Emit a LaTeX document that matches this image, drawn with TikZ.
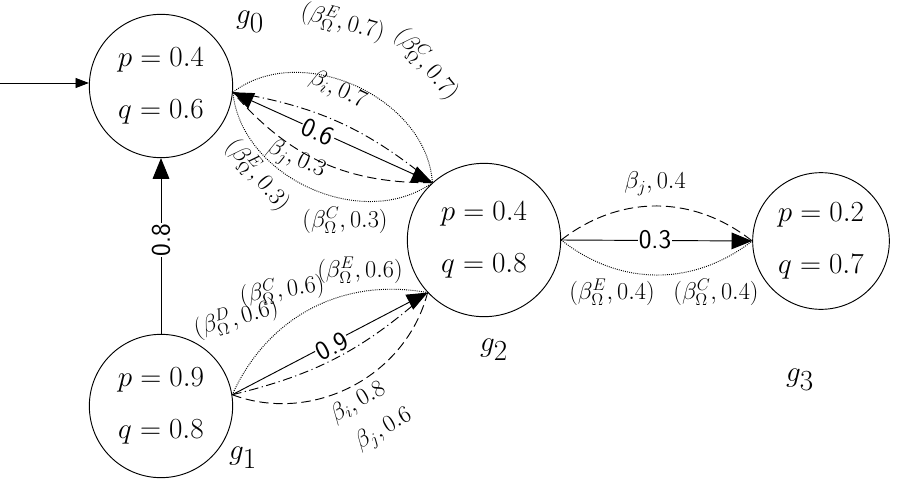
\documentclass[tikz,border=0pt]{standalone}
\usetikzlibrary{arrows.meta,calc}
\begin{document}
\begin{tikzpicture}[x=0.03cm,y=-0.03cm,
  st/.style={circle,draw,line width=0.8pt,align=center,font=\fontsize{34}{44}\selectfont,inner sep=0pt},
  lbl/.style={font=\fontsize{22}{24}\selectfont,inner sep=1pt},
  num/.style={font=\sffamily\fontsize{23}{26}\selectfont,fill=white,inner sep=1pt},
  gl/.style={font=\fontsize{34}{38}\selectfont},
  tip/.style={-{Triangle[length=0.62cm,width=0.5cm]}},
  ln/.style={line width=0.8pt},
  dott/.style={ln,densely dotted},
  dsh/.style={ln,dash pattern=on 8pt off 4pt},
  dd/.style={ln,dash pattern=on 8pt off 3pt on 1pt off 3pt}]
\useasboundingbox (0,0) rectangle (901,478);
\node[st,minimum size=4.3cm] (g0) at (161,86) {$p=0.4$\\$q=0.6$};
\node[st,minimum size=4.3cm] (g1) at (161,406) {$p=0.9$\\$q=0.8$};
\node[st,minimum size=4.6cm] (g2) at (484,240) {$p=0.4$\\$q=0.8$};
\node[st,minimum size=4.1cm] (g3) at (821,241) {$p=0.2$\\$q=0.7$};
\coordinate (s) at (0,83);
\draw[ln,-{Triangle[length=0.4cm,width=0.3cm]}] (s) -- (g0.west|-s);
% g0 - g2
\draw[dott] (g0.-5) to[bend left=62] (g2.132);
\draw[dd] (g0.-5) to[bend left=15] (g2.132);
\draw[dsh] (g2.132) to[bend left=25] (g0.-5);
\draw[dott] (g2.132) to[bend left=60] (g0.-5);
\draw[ln,tip] (g2.132) -- (g0.-5);
\coordinate (m) at ($(g0.-5)!0.9!(g2.132)$);
\draw[ln,tip] (m) -- (g2.132);
% g1 - g0
\draw[ln,tip] (g1.north) -- (g0.south);
\node[num,rotate=90] (n08) at (161,240) {0.8};
% g1 - g2
\draw[dott] (g1.9) to[bend left=38] (g2.-137);
\draw[dd] (g1.9) to[bend right=14] (g2.-137);
\draw[dsh] (g1.9) to[bend right=48] (g2.-137);
\draw[ln,tip] (g1.9) -- (g2.-137);
% g2 - g3
\draw[dsh] (g2.east) to[bend left=38] (g3.west);
\draw[dott] (g2.east) to[bend right=38] (g3.west);
\draw[ln,tip] (g2.east) -- (g3.west);
% labels
\node[lbl,rotate=-15] (a1) at (343,22) {$(\beta^{E}_{\Omega},0.7)$};
\node[lbl,rotate=-50] (a2) at (427,64) {$(\beta^{C}_{\Omega},0.7)$};
\node[lbl,rotate=-25] (a3) at (338,90) {$\beta_i,0.7$};
\node[num,rotate=-24] (a4) at (318,132) {0.6};
\node[lbl,rotate=-25] (a5) at (296,160) {$\beta_j,0.3$};
\node[lbl,rotate=-50] (a6) at (258,175) {$(\beta^{E}_{\Omega},0.3)$};
\node[lbl] (a7) at (345,220) {$(\beta^{C}_{\Omega},0.3)$};
\node[lbl,rotate=15] (b1) at (236,318) {$(\beta^{D}_{\Omega},0.6)$};
\node[lbl,rotate=8] (b2) at (282,290) {$(\beta^{C}_{\Omega},0.6)$};
\node[lbl] (b3) at (360,270) {$(\beta^{E}_{\Omega},0.6)$};
\node[num,rotate=28] (b4) at (332,346) {0.9};
\node[lbl,rotate=30] (b5) at (358,402) {$\beta_i,0.8$};
\node[lbl,rotate=30] (b6) at (384,430) {$\beta_j,0.6$};
\node[lbl] (c1) at (655,184) {$\beta_j,0.4$};
\node[num] (c2) at (655,240) {0.3};
\node[lbl] (c3) at (612,292) {$(\beta^{E}_{\Omega},0.4)$};
\node[lbl] (c4) at (716,292) {$(\beta^{C}_{\Omega},0.4)$};
\node[gl] (l0) at (250,22) {$g_0$};
\node[gl] (l1) at (243,458) {$g_1$};
\node[gl] (l2) at (494,350) {$g_2$};
\node[gl] (l3) at (800,380) {$g_3$};
\end{tikzpicture}
\end{document}
